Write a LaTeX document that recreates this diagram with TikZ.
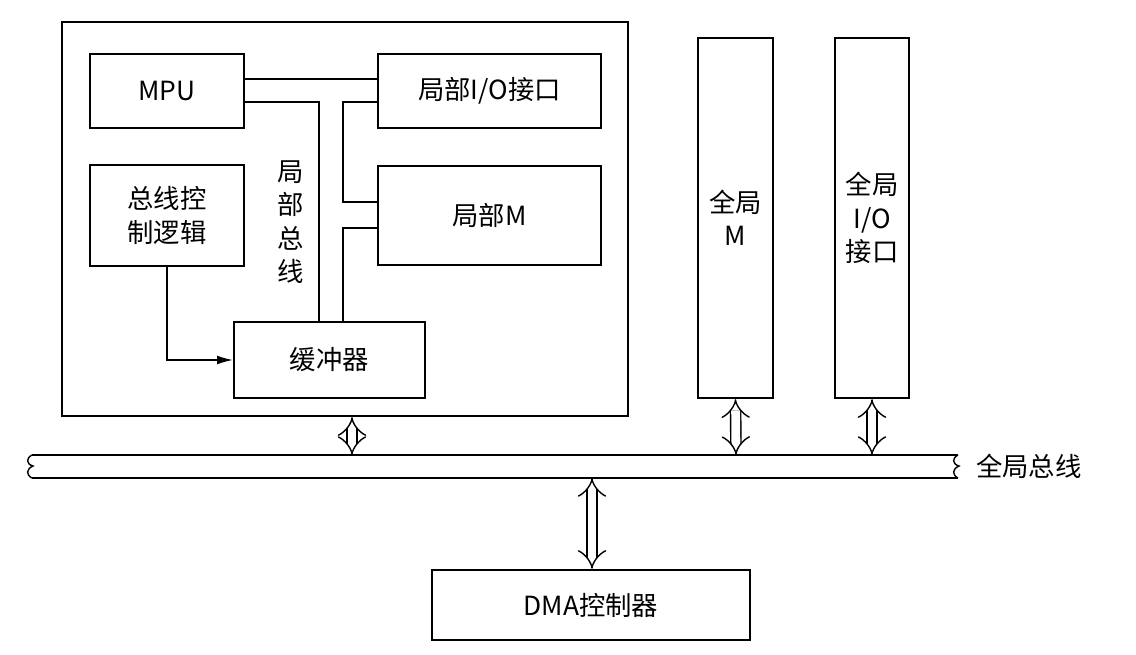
\documentclass[tikz,border=0pt]{standalone}
\usepackage{fontspec}
\setmainfont{Liberation Serif}
\newfontfamily\cjk{Noto Sans CJK SC}
\usetikzlibrary{arrows.meta}
\tikzset{
 box/.style={draw,line width=1.3pt,inner sep=0pt,font=\fontsize{15}{19}\selectfont\cjk,align=center},
 wire/.style={line width=0.8pt},
 dbl/.style={double,double distance=5pt,line width=0.8pt,{Implies[length=5pt]}-{Implies[length=5pt]}}
}
\newcommand{\bx}[6]{\node[box,minimum width={(#4-#2)*0.02cm},minimum height={(#5-#3)*0.02cm}] (#1) at ({(#2+#4)/2},{(#3+#5)/2}) {#6};}
\begin{document}
\begin{tikzpicture}[x=0.02cm,y=-0.02cm]
\useasboundingbox (0,0) rectangle (1136,655);
\bx{outer}{62}{22}{628}{416}{}
\bx{mpu}{90}{54}{244}{128}{MPU}
\bx{lio}{378}{54}{601}{128}{局部I/O接口}
\bx{ctl}{90}{165}{244}{266}{总线控\\制逻辑}
\bx{lm}{378}{166}{601}{265}{局部M}
\bx{buf}{234}{322}{425}{398}{缓冲器}
\bx{gm}{698}{38}{773}{398}{全局\\M}
\bx{gio}{835}{38}{909}{398}{全局\\I/O\\接口}
\bx{dma}{432}{570}{750}{640}{DMA控制器}
\node[font=\fontsize{15}{19}\selectfont\cjk,align=center] (lbl) at (291,222) {局\\部\\总\\线};
% local bus
\draw[wire] (mpu.east|-0,79) -- (lio.west|-0,79);
\draw[wire] (mpu.east|-0,102) -- (319,102) -- (buf.north-|319,0);
\draw[wire] (lio.west|-0,102) -- (343,102) -- (343,202) -- (lm.west|-0,202);
\draw[wire] (lm.west|-0,228) -- (343,228) -- (buf.north-|343,0);
\draw[wire,-{Latex[length=9pt,width=5pt]}] (ctl.south-|167,0) -- (167,360) -- (buf.west|-0,360);
% global bus
\draw[line width=1.3pt] (32,455) -- (958,455);
\draw[line width=1.3pt] (32,478) -- (958,478);
\draw[wire] (32,455) .. controls (26,458) and (26,464) .. (33,466) .. controls (26,469) and (26,475) .. (32,478);
\draw[wire] (958,455) .. controls (952,458) and (952,464) .. (959,466) .. controls (952,469) and (952,475) .. (958,478);
\node[font=\fontsize{15}{19}\selectfont\cjk,anchor=west] (gbl) at (970,466) {全局总线};
\coordinate (b1) at (352,455); \coordinate (b2) at (736,455); \coordinate (b3) at (872,455); \coordinate (b4) at (592,478);
\draw[dbl] (outer.south-|b1) -- (b1);
\draw[dbl] (gm.south) -- (b2);
\draw[dbl] (gio.south-|b3) -- (b3);
\draw[dbl] (b4) -- (dma.north-|b4);
\end{tikzpicture}
\end{document}
